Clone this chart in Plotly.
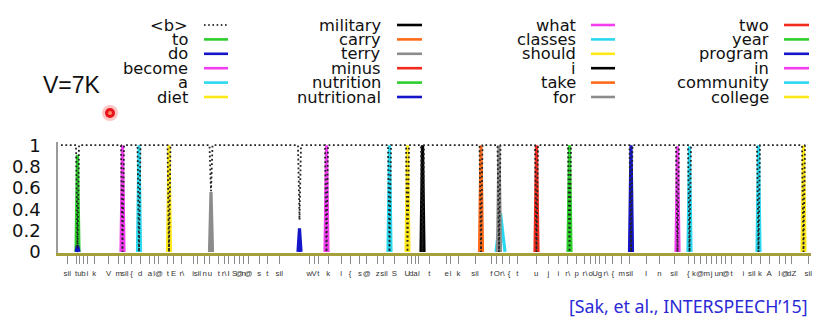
import html
import plotly.graph_objects as go

# ---- data -------------------------------------------------------------
# vocabulary shown in the legend (first entry is the CTC blank)
words = ["<b>", "to", "do", "become", "a", "diet",
         "military", "carry", "terry", "minus", "nutrition", "nutritional",
         "what", "classes", "should", "i", "take", "for",
         "two", "year", "program", "in", "community", "college"]

# posterior spikes: word, frame, peak probability, half width in frames
spike_word = ["to", "do", "become", "a", "diet", "terry", "carry", "nutritional",
              "what", "classes", "should", "i", "take", "for", "a", "two",
              "year", "program", "in", "a", "community", "college"]
spike_frame = [13, 13, 43, 54, 74, 102, 102, 161,
               179, 221, 233, 243, 282, 294, 295, 319,
               341, 382, 413, 421, 467, 497]
spike_peak = [0.91, 0.06, 1.0, 1.0, 1.0, 0.56, 0.07, 0.22,
              1.0, 1.0, 1.0, 1.0, 1.0, 1.0, 0.36, 1.0,
              1.0, 1.0, 0.99, 0.99, 1.0, 1.0]
spike_half = [1, 1, 1, 1, 1, 1, 1, 1,
              1, 1, 1, 1, 1, 1, 3, 1,
              1, 1, 1, 1, 1, 1]

# blank posterior: 1 everywhere except dips at these frames
blank_start, blank_end = 2, 500
blank_frame = [13, 43, 54, 74, 102, 161, 179, 221, 233, 243,
               282, 294, 319, 341, 382, 413, 421, 467, 497]
blank_value = [0.03, 0.0, 0.0, 0.0, 0.57, 0.3, 0.0, 0.0, 0.0, 0.0,
               0.0, 0.0, 0.0, 0.0, 0.0, 0.0, 0.0, 0.0, 0.0]

# phone labels along the time axis
phones = ["sil", "t", "u", "b", "i", "k", "V", "m", "sil", "{", "d", "a", "l", "@",
          "t", "E", "r\\", "i", "sil", "n", "u", "t", "r\\", "I", "S", "@", "n", "@",
          "s", "t", "sil", "w", "V", "t", "k", "l", "{", "s", "@", "z", "sil", "S",
          "U", "d", "a", "l", "t", "e", "l", "k", "sil", "f", "O", "r\\", "{", "t",
          "u", "j", "i", "r\\", "p", "r\\", "o", "U", "g", "r\\", "{", "m", "sil",
          "I", "n", "sil", "{", "k", "@", "m", "j", "u", "n", "@", "t", "i", "sil",
          "k", "A", "l", "@", "dZ", "sil"]
phone_frame = [6.2, 12.0, 14.2, 16.9, 19.5, 24.2, 33.8, 40.5, 44.5, 49.1, 54.7, 61.3, 64.0, 67.3,
               73.3, 77.1, 82.5, 90.0, 92.9, 97.8, 101.3, 107.3, 110.7, 113.8, 117.8, 120.9, 123.8, 126.9,
               134.2, 139.5, 147.5, 167.5, 170.7, 173.5, 180.2, 188.7, 194.7, 201.3, 205.8, 213.1, 217.3, 224.2,
               232.9, 235.5, 238.2, 240.5, 247.5, 259.1, 261.8, 266.9, 278.0, 288.9, 292.5, 296.2, 300.7, 306.2,
               318.7, 326.9, 333.5, 339.8, 345.8, 351.3, 355.1, 358.0, 361.3, 365.3, 369.8, 375.8, 380.9,
               392.0, 400.9, 410.7, 420.2, 424.0, 428.0, 432.5, 435.8, 439.1, 442.0, 445.1, 449.1, 456.9, 462.5,
               468.0, 474.0, 480.9, 484.7, 489.1, 500.2]

# ---- styling ------------------------------------------------------------
palette = ["#2ccf2c", "#1414c8", "#f23cf0", "#2ad8f0", "#ffe81a",
           "#000000", "#ff6a1a", "#8c8c8c", "#f22a1e"]
word_color = {"<b>": "#000000"}
for i, w in enumerate(words[1:]):
    word_color[w] = palette[i % len(palette)]

W, H = 831, 327
L, R, T, B = 58, 20, 142, 74


def px(x):
    return (x - L) / (W - L - R)


def py(y):
    return (H - B - y) / (H - T - B)


fig = go.Figure()

# one trace per word, a narrow triangle at each of its spikes
for w in words[1:]:
    xs, ys = [], []
    for sw, f, p, h in zip(spike_word, spike_frame, spike_peak, spike_half):
        if sw != w:
            continue
        xs += [f - h, f, f + h, None]
        ys += [0, p, 0, None]
    if xs:
        fig.add_trace(go.Scatter(x=xs, y=ys, mode="lines",
                                 line=dict(color=word_color[w], width=3.2),
                                 showlegend=False, hoverinfo="skip"))

# blank posterior, dotted, drawn on top
bx, by = [blank_start], [1.0]
for f, v in zip(blank_frame, blank_value):
    bx += [f - 1, f, f + 1]
    by += [1.0, v, 1.0]
bx.append(blank_end)
by.append(1.0)
fig.add_trace(go.Scatter(x=bx, y=by, mode="lines",
                         line=dict(color="#222222", width=1.8, dash="1.8px,2.6px"),
                         showlegend=False, hoverinfo="skip"))

# ---- legend: four right-aligned columns with line samples ----------------
col_text_right = [190, 383, 578, 771]
col_sample = [(204, 228), (397, 422), (591, 615), (784, 809)]
row_y0, row_dy = 25, 14.4
annotations = []
shapes = []
for i, w in enumerate(words):
    c, r = divmod(i, 6)
    yy = row_y0 + r * row_dy
    annotations.append(dict(
        x=px(col_text_right[c]), y=py(yy), xref="paper", yref="paper",
        xanchor="right", yanchor="middle", showarrow=False,
        text=html.escape(w),
        font=dict(family="DejaVu Sans", size=16.3, color="#111111")))
    x0, x1 = col_sample[c]
    shapes.append(dict(
        type="line", xref="paper", yref="paper",
        x0=px(x0), x1=px(x1), y0=py(yy), y1=py(yy),
        line=dict(color=word_color[w], width=2.6 if w != "<b>" else 1.6,
                  dash="solid" if w != "<b>" else "1.6px,2.6px")))

# vocabulary size
annotations.append(dict(
    x=px(41), y=py(85), xref="paper", yref="paper", xanchor="left",
    yanchor="middle", showarrow=False, text="V=7K",
    font=dict(family="Liberation Sans", size=23, color="#111111")))

# citation
annotations.append(dict(
    x=px(810), y=py(306), xref="paper", yref="paper", xanchor="right",
    yanchor="middle", showarrow=False, text="[Sak, et al., INTERSPEECH\u201915]",
    font=dict(family="Noto Sans", size=17.8, color="#2a2ad6")))

# pointer dot
cx, cy = 110, 113
for rad, col in [(8, "rgba(255,90,90,0.35)"), (5, "#e8141a"), (2, "#ff8a6a")]:
    shapes.append(dict(type="circle", xref="paper", yref="paper",
                       x0=px(cx - rad), x1=px(cx + rad),
                       y0=py(cy + rad), y1=py(cy - rad),
                       fillcolor=col, line=dict(width=0)))

fig.update_layout(
    width=W, height=H,
    margin=dict(l=L, r=R, t=T, b=B, pad=0),
    paper_bgcolor="white", plot_bgcolor="white",
    showlegend=False,
    annotations=annotations, shapes=shapes,
    xaxis=dict(range=[0, 502], showgrid=False, zeroline=False,
               showline=True, linecolor="#a6a03a", linewidth=2.5,
               ticks="outside", ticklen=8, tickwidth=1, tickcolor="#8a8a8a",
               tickvals=phone_frame, ticktext=phones, tickangle=0,
               ticklabelstandoff=3,
               tickfont=dict(family="Liberation Sans", size=7.8, color="#333333")),
    yaxis=dict(range=[-0.01, 1.03], showgrid=False, zeroline=False,
               showline=True, linecolor="#9a9a9a", linewidth=1.5,
               ticks="", tickvals=[0, 0.2, 0.4, 0.6, 0.8, 1],
               ticktext=["0", "0.2", "0.4", "0.6", "0.8", "1"],
               ticklabelstandoff=12,
               tickfont=dict(family="DejaVu Sans", size=18, color="#111111")),
)

fig.write_html("out.html")
